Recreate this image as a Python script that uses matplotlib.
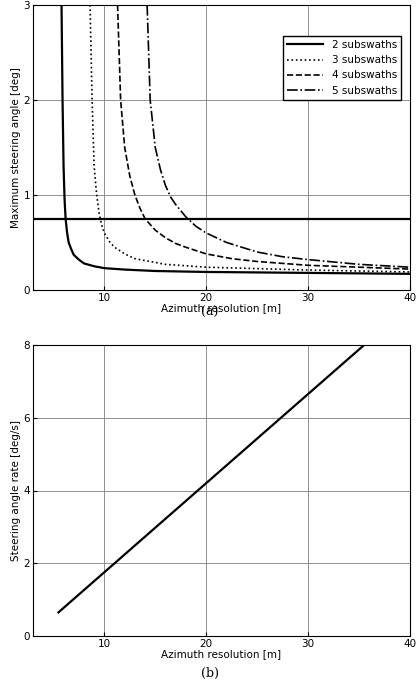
import matplotlib
matplotlib.use("Agg")
import matplotlib.pyplot as plt

# top panel data
x2 = [5.8, 5.9, 6.0, 6.1, 6.2, 6.35, 6.5, 6.75, 7, 7.5, 8, 9, 10, 12, 15, 20, 30, 40]
y2 = [3.0, 2.0, 1.3, 0.95, 0.75, 0.6, 0.5, 0.43, 0.37, 0.32, 0.28, 0.25, 0.23, 0.215, 0.2, 0.19, 0.18, 0.17]
x3 = [8.6, 8.8, 9.0, 9.25, 9.5, 9.75, 10, 10.5, 11, 12, 13, 14.5, 16, 20, 30, 40]
y3 = [3.0, 2.0, 1.3, 1.0, 0.8, 0.68, 0.6, 0.51, 0.45, 0.38, 0.33, 0.3, 0.27, 0.24, 0.21, 0.19]
x4 = [11.3, 11.6, 12, 12.5, 13, 13.5, 14, 15, 16, 17, 18, 20, 22.5, 25, 30, 35, 40]
y4 = [3.0, 2.0, 1.5, 1.2, 1.0, 0.86, 0.75, 0.63, 0.55, 0.49, 0.45, 0.38, 0.33, 0.3, 0.26, 0.24, 0.22]
x5 = [14.2, 14.5, 15, 15.5, 16, 16.5, 17, 18, 19, 20, 22, 25, 27.5, 30, 35, 40]
y5 = [3.0, 2.0, 1.5, 1.27, 1.1, 0.98, 0.9, 0.77, 0.67, 0.6, 0.5, 0.4, 0.35, 0.32, 0.27, 0.24]
hline = 0.75
labels = ["2 subswaths", "3 subswaths", "4 subswaths", "5 subswaths"]
# bottom panel
xb = [5.5, 35.5]
yb = [0.65, 8.0]

plt.rcParams['font.size'] = 7.5
fig = plt.figure(figsize=(4.2, 6.8), dpi=100)
ax1 = fig.add_axes([33/420, 1-290/680, 377/420, 285/680])
ax2 = fig.add_axes([33/420, 1-636/680, 377/420, 291/680])

ax1.plot(x2, y2, 'k-', lw=1.6, label=labels[0])
ax1.plot(x3, y3, 'k:', lw=1.2, label=labels[1])
ax1.plot(x4, y4, 'k--', lw=1.2, label=labels[2])
ax1.plot(x5, y5, 'k-.', lw=1.2, label=labels[3])
ax1.axhline(hline, color='k', lw=1.6)
ax1.set_xlim(3, 40); ax1.set_ylim(0, 3)
ax1.set_xticks([10, 20, 30, 40]); ax1.set_yticks([0, 1, 2, 3])
ax1.grid(True, color='gray', lw=0.6)
ax1.set_xlabel("Azimuth resolution [m]", labelpad=0)
ax1.set_ylabel("Maximum steering angle [deg]", labelpad=2)
leg = ax1.legend(loc='upper right', bbox_to_anchor=(0.99, 0.91), frameon=True,
                 fancybox=False, edgecolor='k', framealpha=1, handlelength=3.5)
fig.text(0.5, 1-316/680, "(a)", ha='center', fontsize=9, family='DejaVu Serif')

ax2.plot(xb, yb, 'k-', lw=1.6)
ax2.set_xlim(3, 40); ax2.set_ylim(0, 8)
ax2.set_xticks([10, 20, 30, 40]); ax2.set_yticks([0, 2, 4, 6, 8])
ax2.grid(True, color='gray', lw=0.6)
ax2.set_xlabel("Azimuth resolution [m]", labelpad=0)
ax2.set_ylabel("Steering angle rate [deg/s]", labelpad=2)
fig.text(0.5, 1-677/680, "(b)", ha='center', fontsize=9, family='DejaVu Serif')
for ax in (ax1, ax2):
    ax.tick_params(direction='in', length=3, pad=2)
fig.savefig("out.png")
